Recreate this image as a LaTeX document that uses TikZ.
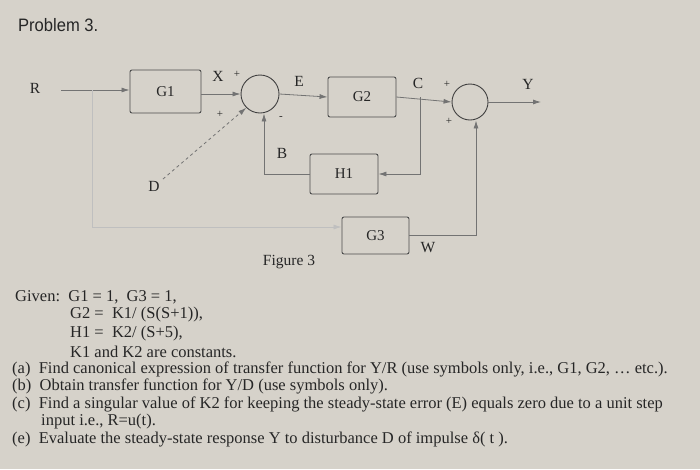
\documentclass[tikz,border=0pt]{standalone}
\usepackage{fontspec}
\setmainfont{Liberation Serif}
\newfontfamily\probfont{Liberation Sans}
\usetikzlibrary{arrows.meta}
\begin{document}
\begin{tikzpicture}[x=1pt,y=-1pt,
  blk/.style={draw=black!70,line width=0.9pt,rounded corners=2pt,minimum width=68pt,minimum height=40pt,inner sep=0pt,font=\fontsize{15}{16}\selectfont,text=black!85},
  sumc/.style={draw=black!75,line width=0.9pt,circle,minimum size=38pt,inner sep=0pt},
  wire/.style={draw=black!55,line width=0.8pt},
  arr/.style={wire,-{Latex[length=8pt,width=5pt]}},
  lbl/.style={font=\fontsize{15.5}{17}\selectfont,text=black!85},
  sg/.style={font=\fontsize{11}{12}\selectfont,text=black!85},
  txt/.style={anchor=west,inner sep=0pt,font=\fontsize{16.5}{18}\selectfont,text=black!85,xscale=1.0}]
\fill[fill={rgb,255:red,214;green,210;blue,202}] (0,0) rectangle (700,469);
\useasboundingbox (0,0) rectangle (700,469);
\node[anchor=west,inner sep=0pt,font=\probfont\fontsize{18}{20}\selectfont,text=black!85,xscale=0.92] (prob) at (18,25) {Problem 3.};
\node[blk,minimum width=71pt,minimum height=43pt] (g1) at (165.5,91.5) {G1};
\node[sumc] (s1) at (260,94) {};
\node[blk] (g2) at (362,97) {G2};
\node[sumc,minimum size=36pt] (s2) at (470,102) {};
\node[blk] (h1) at (344,174) {H1};
\node[blk,minimum width=67pt,minimum height=37pt] (g3) at (375.5,235.5) {G3};
\node[lbl] (r) at (35,88) {R};
\coordinate (rs) at (61,90);
\coordinate (br) at (92,90);
\coordinate (brd) at (92,227);
\coordinate (yend) at (541,102);
\coordinate (cb) at (420,97);
\coordinate (cbd) at (420,174);
\coordinate (bc) at (264,174);
\coordinate (wc) at (476,235.5);
\coordinate (dstart) at (163,179);
\draw[arr] (rs) -- (g1.west |- rs);
\draw[arr] (g1.east |- s1) -- (s1.west);
\draw[arr] (s1.east) -- (g2.west);
\draw[arr] (g2.east) -- (s2.west);
\draw[arr] (s2.east) -- (yend);
\draw[arr] (cb) -- (cbd) -- (h1.east);
\draw[arr] (h1.west) -- (bc) -- (s1.south -| bc);
\draw[arr,black!25] (br) -- (brd) -- (g3.west |- brd);
\draw[arr] (g3.east) -- (wc) -- (s2.south -| wc);
\draw[arr,dashed] (dstart) -- (s1.225);
\node[lbl] (x) at (218,76) {X};
\node[sg] (p1) at (237,74) {+};
\node[lbl] (e) at (299,81) {E};
\node[lbl] (c) at (418,83) {C};
\node[sg] (p2) at (447,84) {+};
\node[lbl] (y) at (528,84) {Y};
\node[sg] (p3) at (220,114) {+};
\node[sg] (m1) at (281,118) {-};
\node[sg] (p4) at (449,121) {+};
\node[lbl] (b) at (282,153) {B};
\node[lbl] (d) at (154,186) {D};
\node[lbl] (w) at (428,248) {W};
\node[lbl] (fig) at (289,262) {Figure 3};
\node[txt] (t1) at (15,297) {Given:\ \ G1 = 1,\ \ G3 = 1,};
\node[txt] (t2) at (70,315) {G2 =\ \ K1/ (S(S+1)),};
\node[txt] (t3) at (70,333.5) {H1 =\ \ K2/ (S+5),};
\node[txt] (t4) at (70,352) {K1 and K2 are constants.};
\node[txt] (t5) at (12,369) {(a)\ \ Find canonical expression of transfer function for Y/R (use symbols only, i.e., G1, G2, \dots{} etc.).};
\node[txt] (t6) at (12,386.5) {(b)\ \ Obtain transfer function for Y/D (use symbols only).};
\node[txt] (t7) at (12,404) {(c)\ \ Find a singular value of K2 for keeping the steady-state error (E) equals zero due to a unit step};
\node[txt] (t8) at (41,421.5) {input i.e., R=u(t).};
\node[txt] (t9) at (12,439) {(e)\ \ Evaluate the steady-state response Y to disturbance D of impulse δ( t ).};
\end{tikzpicture}
\end{document}
